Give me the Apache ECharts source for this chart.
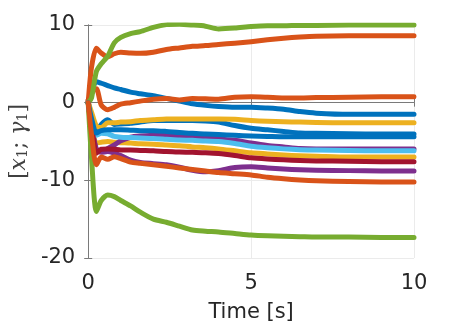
<!DOCTYPE html>
<html>
<head>
<meta charset="utf-8">
<script src="https://cdn.jsdelivr.net/npm/echarts@6/dist/echarts.min.js"></script>
<style>
  html, body { margin: 0; padding: 0; background: #fff; }
</style>
</head>
<body>
<div id="lineBox" style="width:458px;height:332px"></div>
<script>
// time samples (s)
let time = [0, 0.1, 0.25, 0.4, 0.6, 0.8, 1.0, 1.3, 1.6, 2.0, 2.4, 2.8, 3.2, 3.6, 4.0, 4.5, 5.0, 5.5, 6.0, 6.5, 7.0, 8.0, 9.0, 10];
let xTicks = [0, 5, 10];
let yTicks = [-20, -10, 0, 10];

// trajectories
let blueTop     = [0, 1.5, 2.7, 2.5, 2.2, 1.9, 1.7, 1.35, 1.15, 0.9, 0.55, 0.2, -0.15, -0.35, -0.5, -0.6, -0.6, -0.7, -0.85, -1.15, -1.35, -1.5, -1.5, -1.5];
let orangeTop   = [0, 4.5, 7.0, 6.4, 5.9, 6.3, 6.5, 6.4, 6.35, 6.5, 6.85, 7.05, 7.25, 7.35, 7.5, 7.65, 7.85, 8.1, 8.3, 8.45, 8.55, 8.6, 8.6, 8.6];
let yellowLow   = [0, -3, -5.2, -5.1, -5.0, -5.1, -5.15, -5.2, -5.3, -5.35, -5.45, -5.55, -5.7, -5.8, -5.95, -6.2, -6.45, -6.6, -6.75, -6.85, -6.9, -7.0, -7.0, -7.0];
let purpleLow   = [0, -3, -6.0, -6.4, -6.3, -6.5, -6.8, -7.4, -7.7, -7.85, -8.0, -8.3, -8.7, -8.9, -8.75, -8.35, -8.25, -8.4, -8.55, -8.65, -8.7, -8.75, -8.8, -8.8];
let greenLow    = [0, -7, -14.0, -12.6, -11.9, -12.1, -12.6, -13.3, -14.1, -15.0, -15.4, -15.9, -16.4, -16.55, -16.65, -16.85, -17.05, -17.15, -17.2, -17.25, -17.3, -17.3, -17.35, -17.35];
let lightBlue   = [0, -2.5, -4.2, -3.95, -4.0, -4.35, -4.45, -4.5, -4.55, -4.6, -4.7, -4.8, -4.85, -4.95, -5.0, -5.25, -5.6, -5.8, -5.95, -6.05, -6.1, -6.15, -6.2, -6.2];
let crimson     = [0.3, -2.5, -6.5, -6.0, -5.95, -6.0, -6.1, -6.1, -6.15, -6.2, -6.3, -6.35, -6.4, -6.45, -6.55, -6.8, -7.1, -7.25, -7.35, -7.45, -7.5, -7.55, -7.6, -7.6];
let blueMid     = [0, -1.8, -3.7, -2.8, -2.2, -2.8, -2.75, -2.65, -2.5, -2.3, -2.3, -2.3, -2.3, -2.35, -2.5, -2.95, -3.3, -3.5, -3.7, -3.9, -3.95, -4.0, -4.05, -4.05];
let orangeMid   = [0.3, 1.3, 1.8, -0.3, -0.9, -0.6, -0.2, 0.0, 0.2, 0.45, 0.55, 0.35, 0.55, 0.5, 0.45, 0.7, 0.77, 0.7, 0.6, 0.6, 0.65, 0.7, 0.75, 0.77];
let yellowTop   = [0, -1.2, -3.0, -3.2, -2.6, -2.6, -2.5, -2.45, -2.3, -2.2, -2.1, -2.1, -2.1, -2.1, -2.1, -2.15, -2.3, -2.4, -2.45, -2.5, -2.55, -2.6, -2.6, -2.6];
let purpleTop   = [0, -3, -6.0, -6.3, -5.9, -5.45, -4.9, -4.45, -4.3, -4.2, -4.15, -4.25, -4.35, -4.5, -4.65, -4.85, -5.2, -5.5, -5.7, -5.9, -5.95, -5.95, -5.95, -5.95];
let greenTop    = [0, 0.6, 4.0, 5.0, 6.0, 7.7, 8.4, 8.9, 9.15, 9.7, 10.05, 10.1, 10.0, 9.85, 9.5, 9.6, 9.8, 9.9, 9.9, 9.95, 9.95, 10.0, 10.0, 10.0];
let blueLow     = [0, -2.0, -3.9, -3.6, -3.5, -3.5, -3.5, -3.55, -3.6, -3.6, -3.7, -3.85, -3.95, -4.05, -4.1, -4.2, -4.3, -4.35, -4.4, -4.4, -4.4, -4.4, -4.4, -4.4];
let orangeLow   = [0, -4, -8.0, -7.0, -7.3, -6.95, -7.2, -7.65, -7.8, -8.0, -8.2, -8.4, -8.6, -8.8, -9.0, -9.15, -9.3, -9.6, -9.8, -9.95, -10.05, -10.15, -10.2, -10.2];

// matlab default colour order
let blue = "#0072BD", orange = "#D95319", yellow = "#EDB120", purple = "#7E2F8E",
    green = "#77AC30", lblue = "#4DBEEE", red = "#A2142F";

let lines = [
  { data: blueTop, color: blue },
  { data: orangeTop, color: orange },
  { data: yellowLow, color: yellow },
  { data: purpleLow, color: purple },
  { data: greenLow, color: green },
  { data: purpleTop, color: purple },
  { data: lightBlue, color: lblue },
  { data: crimson, color: red },
  { data: blueMid, color: blue },
  { data: orangeMid, color: orange },
  { data: yellowTop, color: yellow },
  { data: greenTop, color: green },
  { data: blueLow, color: blue },
  { data: orangeLow, color: orange }
];

let axisGray = "#7a7a7a";
let font = "DejaVu Sans";

let options = {
  animation: false,
  grid: { left: 86, right: 44, top: 25, bottom: 74 },
  xAxis: [
    {
      type: "value",
      min: xTicks[0],
      max: xTicks[xTicks.length - 1],
      interval: xTicks[1] - xTicks[0],
      name: "Time [s]",
      nameLocation: "middle",
      nameGap: 44,
      nameTextStyle: { fontFamily: font, fontSize: 21, color: "#262626" },
      axisLine: { show: true, lineStyle: { color: axisGray, width: 1 } },
      axisTick: { show: true, inside: true, length: 4, lineStyle: { color: axisGray } },
      axisLabel: { fontFamily: font, fontSize: 21, color: "#262626", margin: 15 },
      splitLine: { show: true, lineStyle: { color: "#ebebeb", width: 1 } }
    },
    {
      // top edge of the box
      type: "value",
      position: "top",
      min: xTicks[0],
      max: xTicks[xTicks.length - 1],
      interval: xTicks[1] - xTicks[0],
      axisLine: { show: true, lineStyle: { color: axisGray, width: 1 } },
      axisTick: { show: true, inside: true, length: 4, lineStyle: { color: axisGray } },
      axisLabel: { show: false },
      splitLine: { show: false }
    }
  ],
  yAxis: [
    {
      type: "value",
      min: yTicks[0],
      max: yTicks[yTicks.length - 1],
      interval: yTicks[1] - yTicks[0],
      name: "[{i|x}{s|1}; {i|γ}{s|1}]",
      nameLocation: "middle",
      nameRotate: 90,
      nameGap: 56,
      nameTextStyle: {
        fontFamily: "DejaVu Serif",
        fontSize: 22,
        color: "#404040",
        rich: {
          i: { fontFamily: "DejaVu Serif", fontStyle: "italic", fontSize: 22, color: "#404040" },
          s: { fontFamily: "DejaVu Serif", fontSize: 14, color: "#404040", verticalAlign: "bottom", padding: [8, 0, 0, 0] }
        }
      },
      axisLine: { show: true, lineStyle: { color: axisGray, width: 1 } },
      axisTick: { show: true, inside: true, length: 4, lineStyle: { color: axisGray } },
      axisLabel: { fontFamily: font, fontSize: 21, color: "#262626", margin: 13 },
      splitLine: { show: true, lineStyle: { color: "#ebebeb", width: 1 } }
    },
    {
      // right edge of the box
      type: "value",
      position: "right",
      min: yTicks[0],
      max: yTicks[yTicks.length - 1],
      interval: yTicks[1] - yTicks[0],
      axisLine: { show: true, lineStyle: { color: axisGray, width: 1 } },
      axisTick: { show: true, inside: true, length: 4, lineStyle: { color: axisGray } },
      axisLabel: { show: false },
      splitLine: { show: false }
    }
  ],
  series: lines.map(function (item) {
    return {
      type: "line",
      showSymbol: false,
      smooth: 0.25,
      lineStyle: { color: item.color, width: 5, cap: "round", join: "round" },
      data: item.data.map(function (v, i) { return [time[i], v]; })
    };
  })
};

let echart = echarts.init(document.getElementById("lineBox"));
echart.setOption(options);
</script>
</body>
</html>
